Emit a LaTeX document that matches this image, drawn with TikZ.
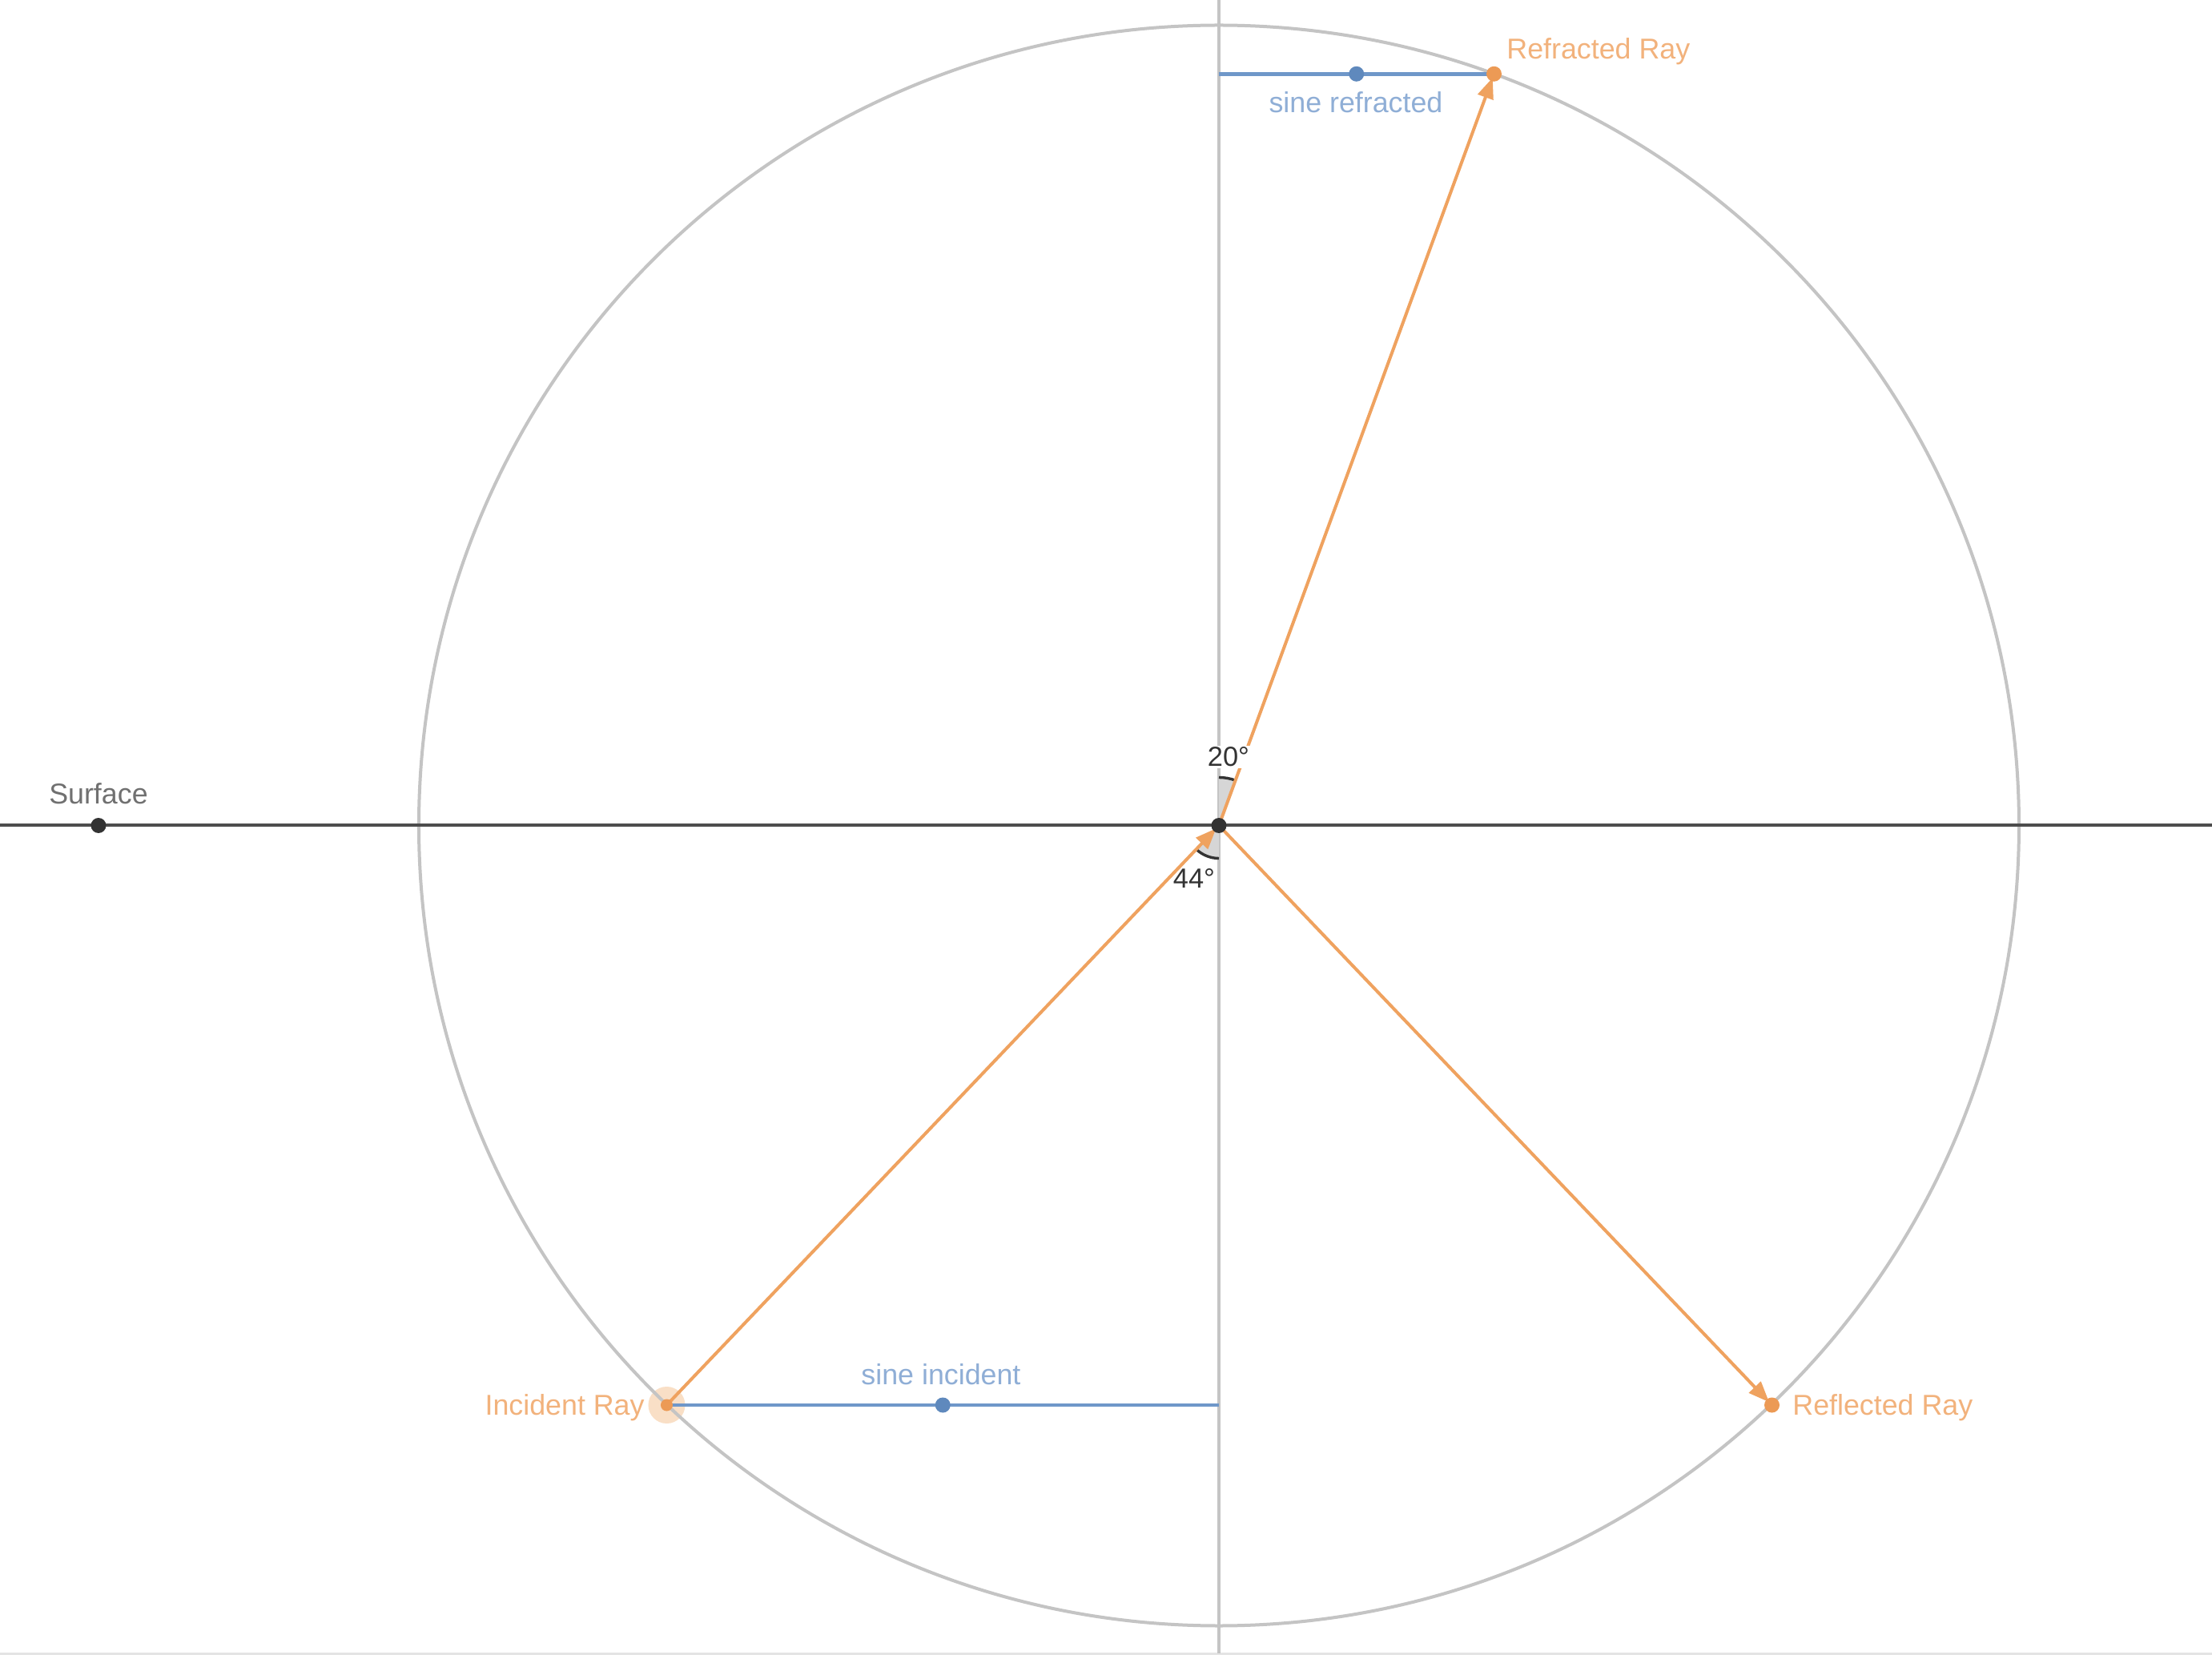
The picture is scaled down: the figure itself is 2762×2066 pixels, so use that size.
\documentclass[tikz,border=0pt]{standalone}
\usepackage{fontspec}
\setmainfont{Liberation Sans}
\usetikzlibrary{arrows.meta}
\definecolor{circgray}{HTML}{C4C4C4}
\definecolor{surfgray}{HTML}{4D4D4D}
\definecolor{dotdark}{HTML}{333333}
\definecolor{rayorange}{HTML}{EFA25F}
\definecolor{dotorange}{HTML}{EC9A55}
\definecolor{txtorange}{HTML}{F2B27C}
\definecolor{haloorange}{HTML}{F9DFC6}
\definecolor{sineblue}{HTML}{6F97C9}
\definecolor{dotblue}{HTML}{5F89BD}
\definecolor{txtblue}{HTML}{8FAED6}
\definecolor{txtgray}{HTML}{707070}
\definecolor{bordergray}{HTML}{E4E4E4}
\definecolor{sectorgray}{HTML}{D6D6D6}
\begin{document}
\begin{tikzpicture}[x=0.5pt,y=0.5pt,
  circ/.style={draw=circgray,line width=2pt},
  axisv/.style={draw=circgray,line width=2pt},
  surf/.style={draw=surfgray,line width=2pt},
  borderline/.style={draw=bordergray,line width=1.5pt},
  sine/.style={draw=sineblue,line width=2.4pt},
  ray/.style={draw=rayorange,line width=2pt,-{Triangle[length=13pt,width=10pt]},shorten >=2.5pt},
  sector/.style={fill=sectorgray},
  angarc/.style={draw=dotdark,line width=1.7pt},
  ddot/.style={circle,fill=dotdark,inner sep=0pt,minimum size=9.5pt},
  odot/.style={circle,fill=dotorange,inner sep=0pt,minimum size=9.5pt},
  bdot/.style={circle,fill=dotblue,inner sep=0pt,minimum size=9.5pt},
  lbl/.style={inner sep=0pt,font=\fontsize{17.9}{21}\selectfont},
  olabel/.style={lbl,text=txtorange},
  blabel/.style={lbl,text=txtblue},
  slabel/.style={lbl,text=txtgray},
  dlabel/.style={lbl,text=dotdark,inner sep=1pt,font=\fontsize{17.2}{20}\selectfont}
]
\useasboundingbox (-1522,-1035.5) rectangle (1240,1030.5);
\fill[white] (-1522,-1035.5) rectangle (1240,1030.5);
% coordinates
\coordinate (O) at (0,0);
\coordinate (T) at (0,1030.5);
\coordinate (B) at (0,-1033.5);
\coordinate (SL) at (-1522,0);
\coordinate (SR) at (1240,0);
\coordinate (BL) at (-1522,-1033.5);
\coordinate (BR) at (1240,-1033.5);
\coordinate (Rf) at (343.5,938.2);
\coordinate (In) at (-689.5,-723.5);
\coordinate (Rl) at (690.5,-723.5);
\coordinate (Sf) at (-1399,0);
\coordinate (Rf0) at (0,938.2);
\coordinate (In0) at (0,-723.5);
\coordinate (RfM) at (171.75,938.2);
\coordinate (InM) at (-344.75,-723.5);
\coordinate (A1) at (90:60);
\coordinate (A2) at (270:41);
% frame and axes
\draw[borderline] (BL) -- (BR);
\draw[axisv] (T) -- (B);
\fill[haloorange] (In) circle[radius=11.5pt];
\draw[circ] (O) circle[radius=999];
\draw[surf] (SL) -- (SR);
% angle sectors
\fill[sector] (O) -- (A1) arc[start angle=90,end angle=70,radius=60] -- cycle;
\draw[angarc] (A1) arc[start angle=90,end angle=70,radius=60];
\fill[sector] (O) -- (A2) arc[start angle=270,end angle=226.4,radius=41] -- cycle;
\draw[angarc] (A2) arc[start angle=270,end angle=226.4,radius=41];
% sine segments
\draw[sine] (Rf0) -- (Rf);
\draw[sine] (In) -- (In0);
% rays
\draw[ray] (In) -- (O);
\draw[ray] (O) -- (Rf);
\draw[ray] (O) -- (Rl);
% points
\node[ddot] (pO) at (O) {};
\node[ddot] (pSf) at (Sf) {};
\node[odot] (pRf) at (Rf) {};
\node[odot,minimum size=7.5pt] (pIn) at (In) {};
\node[odot] (pRl) at (Rl) {};
\node[bdot] (pRfM) at (RfM) {};
\node[bdot] (pInM) at (InM) {};
% labels
\node[olabel,anchor=base west] (lRf) at (359,956.5) {Refracted Ray};
\node[olabel,anchor=base east] (lIn) at (-717,-735.5) {Incident Ray};
\node[olabel,anchor=base west] (lRl) at (716,-735.5) {Reflected Ray};
\node[slabel,anchor=base] (lSf) at (-1399,26.5) {Surface};
\node[blabel,anchor=base] (lRfM) at (171,889.5) {sine refracted};
\node[blabel,anchor=base] (lInM) at (-347,-697.5) {sine incident};
\node[dlabel,fill=white,anchor=base] (l20) at (12,73.8) {20°};
\node[dlabel,anchor=base] (l44) at (-31,-77.8) {44°};
\end{tikzpicture}
\end{document}
